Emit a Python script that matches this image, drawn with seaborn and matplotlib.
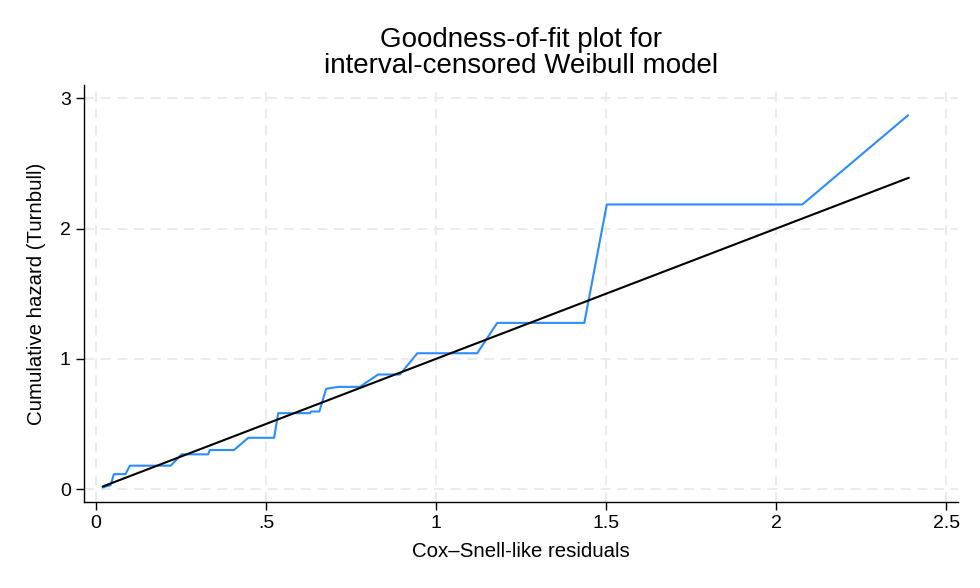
import numpy as np
import pandas as pd
import seaborn as sns
import matplotlib.pyplot as plt

# Turnbull cumulative hazard vs Cox-Snell-like residuals
resid = [0.02, 0.043, 0.053, 0.087, 0.10, 0.22, 0.252, 0.33, 0.335, 0.406,
         0.448, 0.524, 0.536, 0.63, 0.633, 0.657, 0.677, 0.713, 0.776, 0.83,
         0.894, 0.945, 1.121, 1.18, 1.436, 1.502, 2.077, 2.388]
cumhaz = [0.013, 0.03, 0.115, 0.115, 0.18, 0.18, 0.267, 0.267, 0.30, 0.30,
          0.394, 0.394, 0.583, 0.583, 0.596, 0.596, 0.77, 0.785, 0.785, 0.88,
          0.88, 1.043, 1.043, 1.276, 1.276, 2.185, 2.185, 2.87]
ref_line = [0.02, 2.39]

xticks = [0, 0.5, 1, 1.5, 2, 2.5]
xlabels = ["0", ".5", "1", "1.5", "2", "2.5"]
yticks = [0, 1, 2, 3]

df = pd.DataFrame({"resid": resid, "cumhaz": cumhaz})
ref = pd.DataFrame({"x": ref_line, "y": ref_line})

sns.set_style("white")
plt.rcParams['font.family'] = ['Liberation Sans', 'DejaVu Sans']
plt.rcParams['text.color'] = 'black'
plt.rcParams['axes.labelcolor'] = 'black'
plt.rcParams['xtick.color'] = 'black'
plt.rcParams['ytick.color'] = 'black'

fig = plt.figure(figsize=(9.8, 5.88), dpi=100)
ax = fig.add_axes([0.0857, 0.146, 0.892, 0.709])

for t in xticks:
    ax.axvline(t, color="#e8e8e8", lw=1.2, ls=(0, (6, 4)), zorder=0)
for t in yticks:
    ax.axhline(t, color="#e8e8e8", lw=1.2, ls=(0, (6, 4)), zorder=0)

sns.lineplot(data=df, x="resid", y="cumhaz", ax=ax, color="#2a8cff", lw=1.5,
             sort=False, estimator=None)
sns.lineplot(data=ref, x="x", y="y", ax=ax, color="black", lw=1.5,
             sort=False, estimator=None)

ax.set_xlim(-0.035, 2.535)
ax.set_ylim(-0.1, 3.1)
ax.set_xticks(xticks)
ax.set_xticklabels(xlabels)
ax.set_yticks(yticks)
ax.tick_params(axis="both", direction="out", length=6, width=1, labelsize=14,
               color="black", labelcolor="black", left=True, bottom=True)
for s in ["top", "right"]:
    ax.spines[s].set_visible(False)
for s in ["left", "bottom"]:
    ax.spines[s].set_color("black")
    ax.spines[s].set_linewidth(1)

ax.set_xlabel("Cox\u2013Snell-like residuals", fontsize=14.7, labelpad=7)
ax.set_ylabel("Cumulative hazard (Turnbull)", fontsize=14.7, labelpad=10)
ax.set_title("Goodness-of-fit plot for\ninterval-censored Weibull model",
             fontsize=20, pad=9, linespacing=1.0)

fig.savefig("out.png", dpi=100)
